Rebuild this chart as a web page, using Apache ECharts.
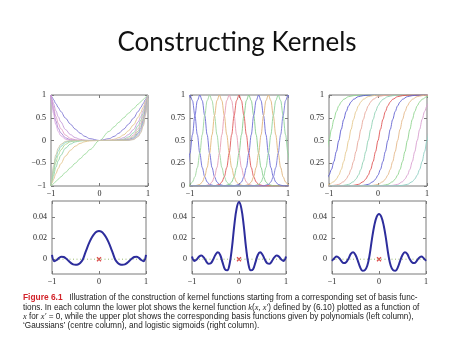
<!DOCTYPE html>
<html><head><meta charset="utf-8">
<script src="https://cdn.jsdelivr.net/npm/echarts@6/dist/echarts.min.js"></script>
<style>html,body{margin:0;padding:0;background:#fff}#c{width:474px;height:355px}</style>
</head><body><div id="c"></div>
<script>
// ---------- data ----------
const xTicks = [-1, 0, 1];
const polyTicks = [-1, -0.5, 0, 0.5, 1];
const unitTicks = [0, 0.25, 0.5, 0.75, 1];
const kernTicks = [0, 0.02, 0.04];

// polynomial basis functions x^1 .. x^11
const polyX = [-1,-0.975,-0.95,-0.9,-0.85,-0.8,-0.7,-0.6,-0.5,-0.4,-0.3,-0.2,0,0.2,0.3,0.4,0.5,0.6,0.7,0.8,0.85,0.9,0.95,0.975,1];
const poly1 = [-1,-0.975,-0.95,-0.9,-0.85,-0.8,-0.7,-0.6,-0.5,-0.4,-0.3,-0.2,0,0.2,0.3,0.4,0.5,0.6,0.7,0.8,0.85,0.9,0.95,0.975,1];
const poly2 = [1,.951,.903,.81,.723,.64,.49,.36,.25,.16,.09,.04,0,.04,.09,.16,.25,.36,.49,.64,.723,.81,.903,.951,1];
const poly3 = [-1,-.927,-.857,-.729,-.614,-.512,-.343,-.216,-.125,-.064,-.027,-.008,0,.008,.027,.064,.125,.216,.343,.512,.614,.729,.857,.927,1];
const poly4 = [1,.904,.815,.656,.522,.41,.24,.13,.063,.026,.008,.002,0,.002,.008,.026,.063,.13,.24,.41,.522,.656,.815,.904,1];
const poly5 = [-1,-.881,-.774,-.59,-.444,-.328,-.168,-.078,-.031,-.01,-.002,0,0,0,.002,.01,.031,.078,.168,.328,.444,.59,.774,.881,1];
const poly6 = [1,.859,.735,.531,.377,.262,.118,.047,.016,.004,.001,0,0,0,.001,.004,.016,.047,.118,.262,.377,.531,.735,.859,1];
const poly7 = [-1,-.838,-.698,-.478,-.321,-.21,-.082,-.028,-.008,-.002,0,0,0,0,0,.002,.008,.028,.082,.21,.321,.478,.698,.838,1];
const poly8 = [1,.817,.663,.43,.273,.168,.058,.017,.004,.001,0,0,0,0,0,.001,.004,.017,.058,.168,.273,.43,.663,.817,1];
const poly9 = [-1,-.796,-.63,-.387,-.232,-.134,-.04,-.01,-.002,0,0,0,0,0,0,0,.002,.01,.04,.134,.232,.387,.63,.796,1];
const poly10 = [1,.776,.599,.349,.197,.107,.028,.006,.001,0,0,0,0,0,0,0,.001,.006,.028,.107,.197,.349,.599,.776,1];
const poly11 = [-1,-.757,-.569,-.314,-.167,-.086,-.02,-.004,0,0,0,0,0,0,0,0,0,.004,.02,.086,.167,.314,.569,.757,1];
const polyColors = ['#9fdc9f','#7f78d4','#e3c48c','#c49ad9','#8fd3ab','#e2a0c8','#b3d98f','#a987d2','#86cfc0','#d9a5e0','#c9c7a4'];

// 'Gaussian' basis functions: one profile (offset from centre) and the centres
const gaussOffset = [-2,-0.5,-0.4,-0.35,-0.3,-0.25,-0.2,-0.15,-0.1,-0.05,0,0.05,0.1,0.15,0.2,0.25,0.3,0.35,0.4,0.5,2];
const gaussShape  = [0,0.002,0.017,0.044,0.101,0.203,0.36,0.563,0.775,0.938,1,0.938,0.775,0.563,0.36,0.203,0.101,0.044,0.017,0.002,0];
const gaussCenters = [-1,-0.8,-0.6,-0.4,-0.2,0,0.2,0.4,0.6,0.8,1];
const gaussColors = ['#6f6fd8','#6a6ad6','#9fd69f','#e3b77a','#e79fb4','#e05a5a','#86cc8c','#6c6cd6','#e0b47a','#8fd49a','#7a7ad8'];

// logistic sigmoid basis functions: one profile and the centres
const sigOffset = [-2,-0.6,-0.5,-0.4,-0.3,-0.25,-0.2,-0.15,-0.1,-0.05,0,0.05,0.1,0.15,0.2,0.25,0.3,0.4,0.5,0.6,2];
const sigShape  = [0,0.002,0.007,0.018,0.047,0.076,0.119,0.182,0.269,0.378,0.5,0.622,0.731,0.818,0.881,0.924,0.953,0.982,0.993,0.998,1];
const sigCenters = [-1,-0.8,-0.6,-0.4,-0.2,0,0.2,0.4,0.6,0.8,1];
const sigColors = ['#8fd68f','#5a5ad0','#e6c98e','#e7a79a','#8fd0b4','#e05555','#6464d2','#e4b88a','#8ed48e','#d9a0d0','#8fcfc4'];

// kernels k(x, 0)
const kernX = [-1,-0.95,-0.9,-0.85,-0.8,-0.75,-0.7,-0.65,-0.6,-0.55,-0.5,-0.45,-0.4,-0.35,-0.3,-0.25,-0.2,-0.15,-0.1,-0.05,0,0.05,0.1,0.15,0.2,0.25,0.3,0.35,0.4,0.45,0.5,0.55,0.6,0.65,0.7,0.75,0.8,0.85,0.9,0.95,1];
const kernPoly = [.0040,-.0019,-.0008,.0012,.0024,.0021,.0006,-.0015,-.0035,-.0049,-.0053,-.0050,-.0036,-.0008,.0050,.0110,.0163,.0207,.0240,.0260,.0267,.0260,.0240,.0207,.0163,.0110,.0050,-.0008,-.0036,-.0050,-.0053,-.0049,-.0035,-.0015,.0006,.0021,.0024,.0012,-.0008,-.0019,.0040];
const kernGauss = [.0025,-.0016,-.0002,.0024,.0034,.0017,-.0018,-.0043,-.0038,-.0003,.0042,.0065,.0040,-.0030,-.0095,-.0105,-.0045,.0110,.0320,.0480,.0540,.0480,.0320,.0110,-.0045,-.0105,-.0095,-.0030,.0040,.0065,.0042,-.0003,-.0038,-.0043,-.0018,.0017,.0034,.0024,-.0002,-.0016,.0025];
const kernSig = [-.0016,.0010,.0025,.0012,-.0018,-.0037,-.0028,.0005,.0050,.0065,.0040,-.0015,-.0078,-.0109,-.0103,-.0062,.0040,.0190,.0318,.0400,.0428,.0400,.0318,.0190,.0040,-.0062,-.0103,-.0109,-.0078,-.0015,.0040,.0065,.0050,.0005,-.0028,-.0037,-.0018,.0012,.0025,.0010,-.0016];
const zeroLineX = [-1, 1];
const zeroLineY = [0, 0];
const markPoint = [[0, 0]];

// ---------- chart ----------
const chart = echarts.init(document.getElementById('c'), null, {renderer: 'canvas'});
const serif = 'Liberation Serif';
const fmt = v => String(v).replace('-', '\u2212');
const grids = [
  {left: 51, top: 95, width: 97, height: 91},
  {left: 190, top: 95, width: 98, height: 91},
  {left: 329, top: 95, width: 98, height: 91},
  {left: 52, top: 201, width: 94, height: 73},
  {left: 192, top: 201, width: 94, height: 73},
  {left: 332, top: 201, width: 94, height: 73}
].map(g => Object.assign({show: true, borderColor: '#7a7a7a', borderWidth: 1, backgroundColor: '#fff'}, g));

const tickStyle = {show: true, inside: true, length: 3, lineStyle: {color: '#7a7a7a'}};
const labelStyle = {fontFamily: serif, fontSize: 8, color: '#222', formatter: fmt};
const yRanges = [
  {min: -1, max: 1, interval: 0.5},
  {min: 0, max: 1, interval: 0.25},
  {min: 0, max: 1, interval: 0.25},
  {min: -0.014, max: 0.055, custom: kernTicks},
  {min: -0.014, max: 0.055, custom: kernTicks},
  {min: -0.014, max: 0.055, custom: kernTicks}
];
const xAxes = [], yAxes = [];
['bottom', 'top'].forEach(pos => {
  for (let i = 0; i < 6; i++) {
    xAxes.push({gridIndex: i, type: 'value', min: -1, max: 1, interval: 1, position: pos,
      axisLine: {show: false, onZero: false}, splitLine: {show: false},
      axisTick: tickStyle,
      axisLabel: Object.assign({}, labelStyle, {margin: 4, show: pos === 'bottom'})});
  }
});
['left', 'right'].forEach(pos => {
  for (let i = 0; i < 6; i++) {
    const r = yRanges[i];
    const ax = {gridIndex: i, type: 'value', position: pos, min: r.min, max: r.max,
      axisLine: {show: false, onZero: false}, splitLine: {show: false},
      axisTick: Object.assign({}, tickStyle),
      axisLabel: Object.assign({}, labelStyle, {margin: 5, show: pos === 'left'})};
    if (r.custom) { ax.axisTick.customValues = r.custom; ax.axisLabel.customValues = r.custom; }
    else ax.interval = r.interval;
    yAxes.push(ax);
  }
});

const series = [];
const thin = (idx, data, color) => ({
  type: 'line', xAxisIndex: idx, yAxisIndex: idx, data, showSymbol: false, symbol: 'none',
  smooth: 0.35, smoothMonotone: 'x', clip: true, silent: true,
  lineStyle: {width: 1, color, opacity: 0.9}
});
const polys = [poly1, poly2, poly3, poly4, poly5, poly6, poly7, poly8, poly9, poly10, poly11];
polys.forEach((p, j) => series.push(thin(0, polyX.map((x, k) => [x, p[k]]), polyColors[j])));
gaussCenters.forEach((c, j) => series.push(thin(1, gaussOffset.map((d, k) => [c + d, gaussShape[k]]), gaussColors[j])));
sigCenters.forEach((c, j) => series.push(thin(2, sigOffset.map((d, k) => [c + d, sigShape[k]]), sigColors[j])));

const kernels = [kernPoly, kernGauss, kernSig];
kernels.forEach((kv, i) => {
  const idx = 3 + i;
  series.push({type: 'line', xAxisIndex: idx, yAxisIndex: idx, silent: true, symbol: 'none',
    data: zeroLineX.map((x, k) => [x, zeroLineY[k]]),
    lineStyle: {width: 1, color: '#98b86a', type: [1, 2.5]}});
  series.push({type: 'line', xAxisIndex: idx, yAxisIndex: idx, silent: true, symbol: 'none',
    smooth: 0.4, clip: true,
    data: kernX.map((x, k) => [x, kv[k]]),
    lineStyle: {width: 2, color: '#2d2d9c'}});
  series.push({type: 'scatter', xAxisIndex: idx, yAxisIndex: idx, silent: true,
    symbol: 'path://M0,0L10,10M10,0L0,10', symbolSize: 4,
    itemStyle: {color: 'none', borderColor: '#d42020', borderWidth: 1.3},
    data: markPoint});
});

const capFont = 'Liberation Sans';
const capStyle = (y, rich) => ({type: 'text', left: 23, top: y, silent: true,
  style: {text: rich, fontFamily: capFont, fontSize: 8.2, fill: '#222',
    rich: {r: {fill: '#d2232a', fontWeight: 'bold', fontFamily: capFont, fontSize: 8.4},
           i: {fontFamily: serif, fontStyle: 'italic', fontSize: 8.4, fill: '#222'},
           n: {fontFamily: capFont, fontSize: 8.2, fill: '#222'}}}});

chart.setOption({
  animation: false,
  backgroundColor: '#ffffff',
  grid: grids, xAxis: xAxes, yAxis: yAxes, series,
  graphic: [
    {type: 'text', left: 'center', top: 30, silent: true,
     style: {text: 'Constructing Kernels', fontFamily: 'Lato', fontSize: 26, fill: '#111'}},
    capStyle(294, '{r|Figure 6.1}{n|   Illustration of the construction of kernel functions starting from a corresponding set of basis func-}'),
    capStyle(303.3, '{n|tions. In each column the lower plot shows the kernel function }{i|k}{n|(}{i|x, x\u2032}{n|) defined by (6.10) plotted as a function of}'),
    capStyle(312.6, '{i|x}{n| for }{i|x\u2032}{n| = 0, while the upper plot shows the corresponding basis functions given by polynomials (left column),}'),
    capStyle(321.9, '{n|\u2018Gaussians\u2019 (centre column), and logistic sigmoids (right column).}')
  ]
});
</script></body></html>
